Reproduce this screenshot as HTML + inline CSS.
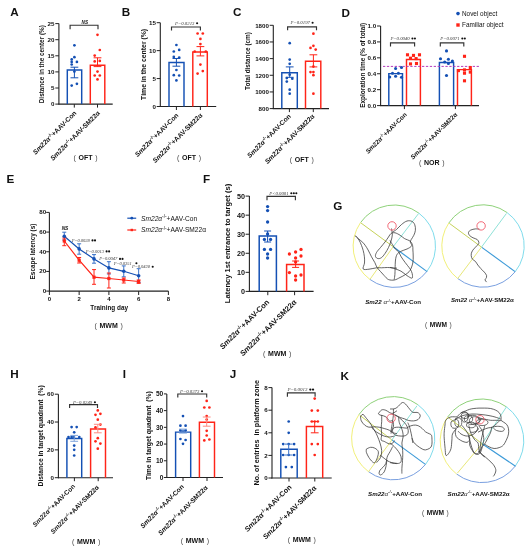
<!DOCTYPE html>
<html><head><meta charset="utf-8"><style>
html,body{margin:0;padding:0;background:#fff;}
text{white-space:pre;}
body{width:531px;height:550px;overflow:hidden;font-family:"Liberation Sans",sans-serif;}
svg{display:block;will-change:transform;}
</style></head><body>
<svg width="531" height="550" viewBox="0 0 531 550" font-family="Liberation Sans">
<rect width="531" height="550" fill="#fff"/>
<text x="10.20" y="15.50" font-size="11.7" text-anchor="start" font-weight="bold" font-style="normal" fill="#111" font-family="Liberation Sans" >A</text>
<line x1="58.90" y1="23.60" x2="58.90" y2="104.60" stroke="#222" stroke-width="1.1" />
<line x1="55.30" y1="104.10" x2="58.90" y2="104.10" stroke="#222" stroke-width="1.0" />
<text x="54.50" y="106.33" font-size="6.2" text-anchor="end" font-weight="bold" font-style="normal" fill="#111" font-family="Liberation Sans" >0</text>
<line x1="55.30" y1="88.00" x2="58.90" y2="88.00" stroke="#222" stroke-width="1.0" />
<text x="54.50" y="90.23" font-size="6.2" text-anchor="end" font-weight="bold" font-style="normal" fill="#111" font-family="Liberation Sans" >5</text>
<line x1="55.30" y1="71.90" x2="58.90" y2="71.90" stroke="#222" stroke-width="1.0" />
<text x="54.50" y="74.13" font-size="6.2" text-anchor="end" font-weight="bold" font-style="normal" fill="#111" font-family="Liberation Sans" >10</text>
<line x1="55.30" y1="55.80" x2="58.90" y2="55.80" stroke="#222" stroke-width="1.0" />
<text x="54.50" y="58.03" font-size="6.2" text-anchor="end" font-weight="bold" font-style="normal" fill="#111" font-family="Liberation Sans" >15</text>
<line x1="55.30" y1="39.70" x2="58.90" y2="39.70" stroke="#222" stroke-width="1.0" />
<text x="54.50" y="41.93" font-size="6.2" text-anchor="end" font-weight="bold" font-style="normal" fill="#111" font-family="Liberation Sans" >20</text>
<line x1="55.30" y1="23.60" x2="58.90" y2="23.60" stroke="#222" stroke-width="1.0" />
<text x="54.50" y="25.83" font-size="6.2" text-anchor="end" font-weight="bold" font-style="normal" fill="#111" font-family="Liberation Sans" >25</text>
<line x1="58.40" y1="104.10" x2="112.70" y2="104.10" stroke="#222" stroke-width="1.1" />
<line x1="74.30" y1="104.10" x2="74.30" y2="107.60" stroke="#222" stroke-width="1.0" />
<line x1="97.50" y1="104.10" x2="97.50" y2="107.60" stroke="#222" stroke-width="1.0" />
<path d="M67.30 104.10V69.90H81.70V104.10" fill="none" stroke="#1450b4" stroke-width="1.45"/>
<path d="M90.30 104.10V65.20H104.80V104.10" fill="none" stroke="#ff2418" stroke-width="1.45"/>
<circle cx="74.40" cy="45.30" r="1.35" fill="#1450b4"/>
<circle cx="74.40" cy="57.20" r="1.35" fill="#1450b4"/>
<circle cx="71.70" cy="59.40" r="1.35" fill="#1450b4"/>
<circle cx="71.70" cy="61.90" r="1.35" fill="#1450b4"/>
<circle cx="76.90" cy="61.90" r="1.35" fill="#1450b4"/>
<circle cx="71.70" cy="64.50" r="1.35" fill="#1450b4"/>
<circle cx="74.40" cy="71.60" r="1.35" fill="#1450b4"/>
<circle cx="76.90" cy="83.80" r="1.35" fill="#1450b4"/>
<circle cx="71.70" cy="85.60" r="1.35" fill="#1450b4"/>
<circle cx="97.50" cy="34.80" r="1.35" fill="#ff2418"/>
<circle cx="99.80" cy="50.00" r="1.35" fill="#ff2418"/>
<circle cx="94.70" cy="55.60" r="1.35" fill="#ff2418"/>
<circle cx="99.80" cy="60.90" r="1.35" fill="#ff2418"/>
<circle cx="94.70" cy="61.40" r="1.35" fill="#ff2418"/>
<circle cx="97.50" cy="71.60" r="1.35" fill="#ff2418"/>
<circle cx="94.70" cy="75.50" r="1.35" fill="#ff2418"/>
<circle cx="99.80" cy="75.50" r="1.35" fill="#ff2418"/>
<circle cx="97.50" cy="79.40" r="1.35" fill="#ff2418"/>
<line x1="74.40" y1="67.20" x2="74.40" y2="77.80" stroke="#1450b4" stroke-width="1.0" />
<line x1="70.50" y1="67.20" x2="78.30" y2="67.20" stroke="#1450b4" stroke-width="1.0" />
<line x1="70.50" y1="77.80" x2="78.30" y2="77.80" stroke="#1450b4" stroke-width="1.0" />
<line x1="97.50" y1="57.80" x2="97.50" y2="66.60" stroke="#ff2418" stroke-width="1.0" />
<line x1="93.60" y1="57.80" x2="101.40" y2="57.80" stroke="#ff2418" stroke-width="1.0" />
<line x1="93.60" y1="66.60" x2="101.40" y2="66.60" stroke="#ff2418" stroke-width="1.0" />
<path d="M70.10 29.20V25.20H98.00V29.20" fill="none" stroke="#333" stroke-width="1.15"/>
<text x="84.80" y="23.60" font-size="4.6" text-anchor="middle" font-weight="bold" font-style="italic" fill="#111" font-family="Liberation Sans" >NS</text>
<text x="0" y="0" font-size="6.4" text-anchor="middle" font-weight="bold" fill="#111" font-family="Liberation Sans" transform="translate(44.30,64.20) rotate(-90)">Distance in the center (%)</text>
<text x="0" y="0" font-size="6.7" text-anchor="end" font-weight="bold" fill="#111" font-family="Liberation Sans" transform="translate(77.00,113.50) rotate(-45)"><tspan font-style="italic">Sm22α</tspan><tspan font-size="4.56" dy="-2.41">-/-</tspan><tspan dy="2.41">+AAV-Con</tspan></text>
<text x="0" y="0" font-size="6.7" text-anchor="end" font-weight="bold" fill="#111" font-family="Liberation Sans" transform="translate(100.50,113.50) rotate(-45)"><tspan font-style="italic">Sm22α</tspan><tspan font-size="4.56" dy="-2.41">-/-</tspan><tspan dy="2.41">+AAV-SM22α</tspan></text>
<text x="85.50" y="160.22" font-size="7.0" text-anchor="middle" font-weight="bold" fill="#111" font-family="Liberation Sans"><tspan font-weight="normal" fill="#444">(</tspan><tspan dx="0.70"> OFT </tspan><tspan font-weight="normal" fill="#444" dx="0.70">)</tspan></text>
<text x="121.80" y="15.50" font-size="11.7" text-anchor="start" font-weight="bold" font-style="normal" fill="#111" font-family="Liberation Sans" >B</text>
<line x1="160.30" y1="22.70" x2="160.30" y2="107.00" stroke="#222" stroke-width="1.1" />
<line x1="156.70" y1="106.50" x2="160.30" y2="106.50" stroke="#222" stroke-width="1.0" />
<text x="155.90" y="108.73" font-size="6.2" text-anchor="end" font-weight="bold" font-style="normal" fill="#111" font-family="Liberation Sans" >0</text>
<line x1="156.70" y1="78.57" x2="160.30" y2="78.57" stroke="#222" stroke-width="1.0" />
<text x="155.90" y="80.80" font-size="6.2" text-anchor="end" font-weight="bold" font-style="normal" fill="#111" font-family="Liberation Sans" >5</text>
<line x1="156.70" y1="50.63" x2="160.30" y2="50.63" stroke="#222" stroke-width="1.0" />
<text x="155.90" y="52.87" font-size="6.2" text-anchor="end" font-weight="bold" font-style="normal" fill="#111" font-family="Liberation Sans" >10</text>
<line x1="156.70" y1="22.70" x2="160.30" y2="22.70" stroke="#222" stroke-width="1.0" />
<text x="155.90" y="24.93" font-size="6.2" text-anchor="end" font-weight="bold" font-style="normal" fill="#111" font-family="Liberation Sans" >15</text>
<line x1="159.80" y1="106.50" x2="216.20" y2="106.50" stroke="#222" stroke-width="1.1" />
<line x1="176.40" y1="106.50" x2="176.40" y2="110.00" stroke="#222" stroke-width="1.0" />
<line x1="200.40" y1="106.50" x2="200.40" y2="110.00" stroke="#222" stroke-width="1.0" />
<path d="M169.00 106.50V62.50H184.00V106.50" fill="none" stroke="#1450b4" stroke-width="1.45"/>
<path d="M192.80 106.50V52.00H207.30V106.50" fill="none" stroke="#ff2418" stroke-width="1.45"/>
<circle cx="176.40" cy="45.00" r="1.35" fill="#1450b4"/>
<circle cx="173.80" cy="51.50" r="1.35" fill="#1450b4"/>
<circle cx="179.20" cy="49.90" r="1.35" fill="#1450b4"/>
<circle cx="173.80" cy="56.90" r="1.35" fill="#1450b4"/>
<circle cx="179.20" cy="57.50" r="1.35" fill="#1450b4"/>
<circle cx="176.40" cy="70.00" r="1.35" fill="#1450b4"/>
<circle cx="173.80" cy="75.20" r="1.35" fill="#1450b4"/>
<circle cx="179.20" cy="75.50" r="1.35" fill="#1450b4"/>
<circle cx="176.40" cy="80.40" r="1.35" fill="#1450b4"/>
<circle cx="197.60" cy="33.50" r="1.35" fill="#ff2418"/>
<circle cx="202.80" cy="33.50" r="1.35" fill="#ff2418"/>
<circle cx="200.40" cy="38.90" r="1.35" fill="#ff2418"/>
<circle cx="200.40" cy="44.10" r="1.35" fill="#ff2418"/>
<circle cx="194.70" cy="51.50" r="1.35" fill="#ff2418"/>
<circle cx="205.80" cy="51.50" r="1.35" fill="#ff2418"/>
<circle cx="200.40" cy="64.60" r="1.35" fill="#ff2418"/>
<circle cx="202.80" cy="71.10" r="1.35" fill="#ff2418"/>
<circle cx="197.60" cy="73.60" r="1.35" fill="#ff2418"/>
<line x1="176.40" y1="58.50" x2="176.40" y2="66.20" stroke="#1450b4" stroke-width="1.0" />
<line x1="172.50" y1="58.50" x2="180.30" y2="58.50" stroke="#1450b4" stroke-width="1.0" />
<line x1="172.50" y1="66.20" x2="180.30" y2="66.20" stroke="#1450b4" stroke-width="1.0" />
<line x1="200.40" y1="46.60" x2="200.40" y2="55.90" stroke="#ff2418" stroke-width="1.0" />
<line x1="196.50" y1="46.60" x2="204.30" y2="46.60" stroke="#ff2418" stroke-width="1.0" />
<line x1="196.50" y1="55.90" x2="204.30" y2="55.90" stroke="#ff2418" stroke-width="1.0" />
<path d="M171.50 30.50V27.00H200.40V30.50" fill="none" stroke="#333" stroke-width="1.15"/>
<text x="175.10" y="24.78" font-family="Liberation Serif" font-style="italic" font-size="4.8" fill="#3c3c3c">P=0.0213</text>
<circle cx="197.12" cy="23.20" r="1.05" fill="#111"/>
<text x="0" y="0" font-size="6.85" text-anchor="middle" font-weight="bold" fill="#111" font-family="Liberation Sans" transform="translate(145.67,64.40) rotate(-90)">Time in the center (%)</text>
<text x="0" y="0" font-size="6.7" text-anchor="end" font-weight="bold" fill="#111" font-family="Liberation Sans" transform="translate(179.00,115.80) rotate(-45)"><tspan font-style="italic">Sm22α</tspan><tspan font-size="4.56" dy="-2.41">-/-</tspan><tspan dy="2.41">+AAV-Con</tspan></text>
<text x="0" y="0" font-size="6.7" text-anchor="end" font-weight="bold" fill="#111" font-family="Liberation Sans" transform="translate(202.80,115.80) rotate(-45)"><tspan font-style="italic">Sm22α</tspan><tspan font-size="4.56" dy="-2.41">-/-</tspan><tspan dy="2.41">+AAV-SM22α</tspan></text>
<text x="189.10" y="159.62" font-size="7.0" text-anchor="middle" font-weight="bold" fill="#111" font-family="Liberation Sans"><tspan font-weight="normal" fill="#444">(</tspan><tspan dx="0.70"> OFT </tspan><tspan font-weight="normal" fill="#444" dx="0.70">)</tspan></text>
<text x="233.10" y="15.50" font-size="11.7" text-anchor="start" font-weight="bold" font-style="normal" fill="#111" font-family="Liberation Sans" >C</text>
<line x1="273.30" y1="25.30" x2="273.30" y2="109.10" stroke="#222" stroke-width="1.1" />
<line x1="269.70" y1="108.60" x2="273.30" y2="108.60" stroke="#222" stroke-width="1.0" />
<text x="268.90" y="110.83" font-size="6.2" text-anchor="end" font-weight="bold" font-style="normal" fill="#111" font-family="Liberation Sans" >800</text>
<line x1="269.70" y1="91.94" x2="273.30" y2="91.94" stroke="#222" stroke-width="1.0" />
<text x="268.90" y="94.17" font-size="6.2" text-anchor="end" font-weight="bold" font-style="normal" fill="#111" font-family="Liberation Sans" >1000</text>
<line x1="269.70" y1="75.28" x2="273.30" y2="75.28" stroke="#222" stroke-width="1.0" />
<text x="268.90" y="77.51" font-size="6.2" text-anchor="end" font-weight="bold" font-style="normal" fill="#111" font-family="Liberation Sans" >1200</text>
<line x1="269.70" y1="58.62" x2="273.30" y2="58.62" stroke="#222" stroke-width="1.0" />
<text x="268.90" y="60.85" font-size="6.2" text-anchor="end" font-weight="bold" font-style="normal" fill="#111" font-family="Liberation Sans" >1400</text>
<line x1="269.70" y1="41.96" x2="273.30" y2="41.96" stroke="#222" stroke-width="1.0" />
<text x="268.90" y="44.19" font-size="6.2" text-anchor="end" font-weight="bold" font-style="normal" fill="#111" font-family="Liberation Sans" >1600</text>
<line x1="269.70" y1="25.30" x2="273.30" y2="25.30" stroke="#222" stroke-width="1.0" />
<text x="268.90" y="27.53" font-size="6.2" text-anchor="end" font-weight="bold" font-style="normal" fill="#111" font-family="Liberation Sans" >1800</text>
<line x1="272.80" y1="108.60" x2="329.00" y2="108.60" stroke="#222" stroke-width="1.1" />
<line x1="289.40" y1="108.60" x2="289.40" y2="112.10" stroke="#222" stroke-width="1.0" />
<line x1="313.30" y1="108.60" x2="313.30" y2="112.10" stroke="#222" stroke-width="1.0" />
<path d="M281.80 108.60V72.70H297.30V108.60" fill="none" stroke="#1450b4" stroke-width="1.45"/>
<path d="M305.50 108.60V61.30H320.80V108.60" fill="none" stroke="#ff2418" stroke-width="1.45"/>
<circle cx="289.70" cy="43.20" r="1.35" fill="#1450b4"/>
<circle cx="289.70" cy="59.60" r="1.35" fill="#1450b4"/>
<circle cx="289.70" cy="63.80" r="1.35" fill="#1450b4"/>
<circle cx="289.70" cy="74.70" r="1.35" fill="#1450b4"/>
<circle cx="286.80" cy="78.10" r="1.35" fill="#1450b4"/>
<circle cx="292.30" cy="78.70" r="1.35" fill="#1450b4"/>
<circle cx="286.80" cy="81.60" r="1.35" fill="#1450b4"/>
<circle cx="289.70" cy="89.70" r="1.35" fill="#1450b4"/>
<circle cx="289.70" cy="93.70" r="1.35" fill="#1450b4"/>
<circle cx="313.40" cy="33.70" r="1.35" fill="#ff2418"/>
<circle cx="310.50" cy="47.90" r="1.35" fill="#ff2418"/>
<circle cx="313.40" cy="45.80" r="1.35" fill="#ff2418"/>
<circle cx="315.70" cy="49.60" r="1.35" fill="#ff2418"/>
<circle cx="313.40" cy="66.60" r="1.35" fill="#ff2418"/>
<circle cx="313.40" cy="72.10" r="1.35" fill="#ff2418"/>
<circle cx="313.40" cy="75.20" r="1.35" fill="#ff2418"/>
<circle cx="310.50" cy="72.10" r="1.35" fill="#ff2418"/>
<circle cx="313.40" cy="93.70" r="1.35" fill="#ff2418"/>
<line x1="289.70" y1="66.90" x2="289.70" y2="77.30" stroke="#1450b4" stroke-width="1.0" />
<line x1="285.80" y1="66.90" x2="293.60" y2="66.90" stroke="#1450b4" stroke-width="1.0" />
<line x1="285.80" y1="77.30" x2="293.60" y2="77.30" stroke="#1450b4" stroke-width="1.0" />
<line x1="313.40" y1="54.80" x2="313.40" y2="66.90" stroke="#ff2418" stroke-width="1.0" />
<line x1="309.50" y1="54.80" x2="317.30" y2="54.80" stroke="#ff2418" stroke-width="1.0" />
<line x1="309.50" y1="66.90" x2="317.30" y2="66.90" stroke="#ff2418" stroke-width="1.0" />
<path d="M287.60 30.30V26.80H316.50V30.30" fill="none" stroke="#333" stroke-width="1.15"/>
<text x="290.60" y="24.38" font-family="Liberation Serif" font-style="italic" font-size="4.8" fill="#3c3c3c">P=0.0197</text>
<circle cx="312.62" cy="22.80" r="1.05" fill="#111"/>
<text x="0" y="0" font-size="6.4" text-anchor="middle" font-weight="bold" fill="#111" font-family="Liberation Sans" transform="translate(249.80,61.00) rotate(-90)">Total distance (cm)</text>
<text x="0" y="0" font-size="6.7" text-anchor="end" font-weight="bold" fill="#111" font-family="Liberation Sans" transform="translate(291.30,116.80) rotate(-45)"><tspan font-style="italic">Sm22α</tspan><tspan font-size="4.56" dy="-2.41">-/-</tspan><tspan dy="2.41">+AAV-Con</tspan></text>
<text x="0" y="0" font-size="6.7" text-anchor="end" font-weight="bold" fill="#111" font-family="Liberation Sans" transform="translate(315.00,116.80) rotate(-45)"><tspan font-style="italic">Sm22α</tspan><tspan font-size="4.56" dy="-2.41">-/-</tspan><tspan dy="2.41">+AAV-SM22α</tspan></text>
<text x="301.80" y="161.92" font-size="7.0" text-anchor="middle" font-weight="bold" fill="#111" font-family="Liberation Sans"><tspan font-weight="normal" fill="#444">(</tspan><tspan dx="0.70"> OFT </tspan><tspan font-weight="normal" fill="#444" dx="0.70">)</tspan></text>
<text x="341.40" y="16.90" font-size="11.7" text-anchor="start" font-weight="bold" font-style="normal" fill="#111" font-family="Liberation Sans" >D</text>
<line x1="380.60" y1="26.00" x2="380.60" y2="106.10" stroke="#222" stroke-width="1.1" />
<line x1="377.00" y1="105.60" x2="380.60" y2="105.60" stroke="#222" stroke-width="1.0" />
<text x="376.20" y="107.83" font-size="6.2" text-anchor="end" font-weight="bold" font-style="normal" fill="#111" font-family="Liberation Sans" >0.0</text>
<line x1="377.00" y1="89.68" x2="380.60" y2="89.68" stroke="#222" stroke-width="1.0" />
<text x="376.20" y="91.91" font-size="6.2" text-anchor="end" font-weight="bold" font-style="normal" fill="#111" font-family="Liberation Sans" >0.2</text>
<line x1="377.00" y1="73.76" x2="380.60" y2="73.76" stroke="#222" stroke-width="1.0" />
<text x="376.20" y="75.99" font-size="6.2" text-anchor="end" font-weight="bold" font-style="normal" fill="#111" font-family="Liberation Sans" >0.4</text>
<line x1="377.00" y1="57.84" x2="380.60" y2="57.84" stroke="#222" stroke-width="1.0" />
<text x="376.20" y="60.07" font-size="6.2" text-anchor="end" font-weight="bold" font-style="normal" fill="#111" font-family="Liberation Sans" >0.6</text>
<line x1="377.00" y1="41.92" x2="380.60" y2="41.92" stroke="#222" stroke-width="1.0" />
<text x="376.20" y="44.15" font-size="6.2" text-anchor="end" font-weight="bold" font-style="normal" fill="#111" font-family="Liberation Sans" >0.8</text>
<line x1="377.00" y1="26.00" x2="380.60" y2="26.00" stroke="#222" stroke-width="1.0" />
<text x="376.20" y="28.23" font-size="6.2" text-anchor="end" font-weight="bold" font-style="normal" fill="#111" font-family="Liberation Sans" >1.0</text>
<line x1="380.10" y1="105.60" x2="479.00" y2="105.60" stroke="#222" stroke-width="1.1" />
<line x1="404.40" y1="105.60" x2="404.40" y2="109.10" stroke="#222" stroke-width="1.0" />
<line x1="455.40" y1="105.60" x2="455.40" y2="109.10" stroke="#222" stroke-width="1.0" />
<path d="M388.80 105.60V73.60H402.50V105.60" fill="none" stroke="#1450b4" stroke-width="1.45"/>
<path d="M406.50 105.60V59.40H420.40V105.60" fill="none" stroke="#ff2418" stroke-width="1.45"/>
<path d="M439.40 105.60V62.50H453.60V105.60" fill="none" stroke="#1450b4" stroke-width="1.45"/>
<path d="M457.50 105.60V69.60H471.40V105.60" fill="none" stroke="#ff2418" stroke-width="1.45"/>
<line x1="383.00" y1="66.40" x2="479.00" y2="66.40" stroke="#b43cbc" stroke-width="1.0" stroke-dasharray="2.3 1.6"/>
<circle cx="395.60" cy="68.50" r="1.55" fill="#1450b4"/>
<circle cx="401.50" cy="67.50" r="1.55" fill="#1450b4"/>
<circle cx="392.50" cy="73.20" r="1.55" fill="#1450b4"/>
<circle cx="398.40" cy="73.20" r="1.55" fill="#1450b4"/>
<circle cx="395.60" cy="76.20" r="1.55" fill="#1450b4"/>
<circle cx="389.70" cy="77.00" r="1.55" fill="#1450b4"/>
<circle cx="401.50" cy="77.20" r="1.55" fill="#1450b4"/>
<rect x="405.95" y="53.25" width="3.1" height="3.1" fill="#ff2418"/>
<rect x="411.95" y="53.85" width="3.1" height="3.1" fill="#ff2418"/>
<rect x="417.95" y="53.25" width="3.1" height="3.1" fill="#ff2418"/>
<rect x="408.95" y="56.65" width="3.1" height="3.1" fill="#ff2418"/>
<rect x="414.55" y="57.05" width="3.1" height="3.1" fill="#ff2418"/>
<rect x="408.95" y="62.35" width="3.1" height="3.1" fill="#ff2418"/>
<rect x="414.95" y="61.95" width="3.1" height="3.1" fill="#ff2418"/>
<circle cx="446.50" cy="50.90" r="1.55" fill="#1450b4"/>
<circle cx="440.50" cy="58.70" r="1.55" fill="#1450b4"/>
<circle cx="448.40" cy="59.30" r="1.55" fill="#1450b4"/>
<circle cx="452.40" cy="61.00" r="1.55" fill="#1450b4"/>
<circle cx="444.70" cy="62.00" r="1.55" fill="#1450b4"/>
<circle cx="448.40" cy="63.50" r="1.55" fill="#1450b4"/>
<circle cx="446.50" cy="75.50" r="1.55" fill="#1450b4"/>
<rect x="462.95" y="54.75" width="3.1" height="3.1" fill="#ff2418"/>
<rect x="468.75" y="66.05" width="3.1" height="3.1" fill="#ff2418"/>
<rect x="456.85" y="69.05" width="3.1" height="3.1" fill="#ff2418"/>
<rect x="462.95" y="68.35" width="3.1" height="3.1" fill="#ff2418"/>
<rect x="462.95" y="71.65" width="3.1" height="3.1" fill="#ff2418"/>
<rect x="468.75" y="70.55" width="3.1" height="3.1" fill="#ff2418"/>
<rect x="462.95" y="79.25" width="3.1" height="3.1" fill="#ff2418"/>
<path d="M390.50 46.60V42.90H414.60V46.60" fill="none" stroke="#333" stroke-width="1.15"/>
<path d="M440.30 46.60V42.90H463.80V46.60" fill="none" stroke="#333" stroke-width="1.15"/>
<text x="390.40" y="40.08" font-family="Liberation Serif" font-style="italic" font-size="4.8" fill="#3c3c3c">P=0.0040</text>
<circle cx="412.42" cy="38.50" r="1.05" fill="#111"/>
<circle cx="414.92" cy="38.50" r="1.05" fill="#111"/>
<text x="440.30" y="40.08" font-family="Liberation Serif" font-style="italic" font-size="4.8" fill="#3c3c3c">P=0.0071</text>
<circle cx="462.32" cy="38.50" r="1.05" fill="#111"/>
<circle cx="464.82" cy="38.50" r="1.05" fill="#111"/>
<text x="0" y="0" font-size="6.4" text-anchor="middle" font-weight="bold" fill="#111" font-family="Liberation Sans" transform="translate(364.90,65.30) rotate(-90)">Exploration time (% of total)</text>
<text x="0" y="0" font-size="6.3" text-anchor="end" font-weight="bold" fill="#111" font-family="Liberation Sans" transform="translate(407.20,115.00) rotate(-45)"><tspan font-style="italic">Sm22α</tspan><tspan font-size="4.28" dy="-2.27">-/-</tspan><tspan dy="2.27">+AAV-Con</tspan></text>
<text x="0" y="0" font-size="6.3" text-anchor="end" font-weight="bold" fill="#111" font-family="Liberation Sans" transform="translate(457.80,115.00) rotate(-45)"><tspan font-style="italic">Sm22α</tspan><tspan font-size="4.28" dy="-2.27">-/-</tspan><tspan dy="2.27">+AAV-SM22α</tspan></text>
<text x="431.80" y="165.12" font-size="7.0" text-anchor="middle" font-weight="bold" fill="#111" font-family="Liberation Sans"><tspan font-weight="normal" fill="#444">(</tspan><tspan dx="0.70"> NOR </tspan><tspan font-weight="normal" fill="#444" dx="0.70">)</tspan></text>
<circle cx="458.00" cy="13.60" r="1.8" fill="#1450b4"/>
<rect x="456.30" y="23.30" width="3.4" height="3.4" fill="#ff2418"/>
<text x="462.00" y="15.80" font-size="6.4" text-anchor="start" font-weight="normal" font-style="normal" fill="#111" font-family="Liberation Sans" >Novel object</text>
<text x="462.00" y="27.20" font-size="6.4" text-anchor="start" font-weight="normal" font-style="normal" fill="#111" font-family="Liberation Sans" >Familiar object</text>
<text x="6.40" y="183.30" font-size="11.7" text-anchor="start" font-weight="bold" font-style="normal" fill="#111" font-family="Liberation Sans" >E</text>
<line x1="49.40" y1="212.40" x2="49.40" y2="291.60" stroke="#222" stroke-width="1.1" />
<line x1="46.20" y1="291.10" x2="49.40" y2="291.10" stroke="#222" stroke-width="1.0" />
<text x="46.20" y="293.13" font-size="6.2" text-anchor="end" font-weight="bold" font-style="normal" fill="#111" font-family="Liberation Sans" >0</text>
<line x1="46.20" y1="271.43" x2="49.40" y2="271.43" stroke="#222" stroke-width="1.0" />
<text x="46.20" y="273.46" font-size="6.2" text-anchor="end" font-weight="bold" font-style="normal" fill="#111" font-family="Liberation Sans" >20</text>
<line x1="46.20" y1="251.75" x2="49.40" y2="251.75" stroke="#222" stroke-width="1.0" />
<text x="46.20" y="253.78" font-size="6.2" text-anchor="end" font-weight="bold" font-style="normal" fill="#111" font-family="Liberation Sans" >40</text>
<line x1="46.20" y1="232.08" x2="49.40" y2="232.08" stroke="#222" stroke-width="1.0" />
<text x="46.20" y="234.11" font-size="6.2" text-anchor="end" font-weight="bold" font-style="normal" fill="#111" font-family="Liberation Sans" >60</text>
<line x1="46.20" y1="212.40" x2="49.40" y2="212.40" stroke="#222" stroke-width="1.0" />
<text x="46.20" y="214.43" font-size="6.2" text-anchor="end" font-weight="bold" font-style="normal" fill="#111" font-family="Liberation Sans" >80</text>
<line x1="49.10" y1="291.10" x2="168.40" y2="291.10" stroke="#222" stroke-width="1.1" />
<line x1="49.40" y1="291.10" x2="49.40" y2="295.00" stroke="#222" stroke-width="1.0" />
<text x="49.40" y="300.60" font-size="6.0" text-anchor="middle" font-weight="bold" font-style="normal" fill="#111" font-family="Liberation Sans" >0</text>
<line x1="79.15" y1="291.10" x2="79.15" y2="295.00" stroke="#222" stroke-width="1.0" />
<text x="79.15" y="300.60" font-size="6.0" text-anchor="middle" font-weight="bold" font-style="normal" fill="#111" font-family="Liberation Sans" >2</text>
<line x1="108.90" y1="291.10" x2="108.90" y2="295.00" stroke="#222" stroke-width="1.0" />
<text x="108.90" y="300.60" font-size="6.0" text-anchor="middle" font-weight="bold" font-style="normal" fill="#111" font-family="Liberation Sans" >4</text>
<line x1="138.65" y1="291.10" x2="138.65" y2="295.00" stroke="#222" stroke-width="1.0" />
<text x="138.65" y="300.60" font-size="6.0" text-anchor="middle" font-weight="bold" font-style="normal" fill="#111" font-family="Liberation Sans" >6</text>
<line x1="168.40" y1="291.10" x2="168.40" y2="295.00" stroke="#222" stroke-width="1.0" />
<text x="168.40" y="300.60" font-size="6.0" text-anchor="middle" font-weight="bold" font-style="normal" fill="#111" font-family="Liberation Sans" >8</text>
<line x1="64.28" y1="232.20" x2="64.28" y2="240.00" stroke="#3a72c8" stroke-width="1.0" />
<line x1="62.28" y1="232.20" x2="66.28" y2="232.20" stroke="#3a72c8" stroke-width="1.0" />
<line x1="62.28" y1="240.00" x2="66.28" y2="240.00" stroke="#3a72c8" stroke-width="1.0" />
<line x1="79.15" y1="243.80" x2="79.15" y2="254.20" stroke="#3a72c8" stroke-width="1.0" />
<line x1="77.15" y1="243.80" x2="81.15" y2="243.80" stroke="#3a72c8" stroke-width="1.0" />
<line x1="77.15" y1="254.20" x2="81.15" y2="254.20" stroke="#3a72c8" stroke-width="1.0" />
<line x1="94.03" y1="254.60" x2="94.03" y2="263.20" stroke="#3a72c8" stroke-width="1.0" />
<line x1="92.03" y1="254.60" x2="96.03" y2="254.60" stroke="#3a72c8" stroke-width="1.0" />
<line x1="92.03" y1="263.20" x2="96.03" y2="263.20" stroke="#3a72c8" stroke-width="1.0" />
<line x1="108.90" y1="261.70" x2="108.90" y2="274.00" stroke="#3a72c8" stroke-width="1.0" />
<line x1="106.90" y1="261.70" x2="110.90" y2="261.70" stroke="#3a72c8" stroke-width="1.0" />
<line x1="106.90" y1="274.00" x2="110.90" y2="274.00" stroke="#3a72c8" stroke-width="1.0" />
<line x1="123.78" y1="265.90" x2="123.78" y2="276.80" stroke="#3a72c8" stroke-width="1.0" />
<line x1="121.78" y1="265.90" x2="125.78" y2="265.90" stroke="#3a72c8" stroke-width="1.0" />
<line x1="121.78" y1="276.80" x2="125.78" y2="276.80" stroke="#3a72c8" stroke-width="1.0" />
<line x1="138.65" y1="268.70" x2="138.65" y2="282.40" stroke="#3a72c8" stroke-width="1.0" />
<line x1="136.65" y1="268.70" x2="140.65" y2="268.70" stroke="#3a72c8" stroke-width="1.0" />
<line x1="136.65" y1="282.40" x2="140.65" y2="282.40" stroke="#3a72c8" stroke-width="1.0" />
<polyline points="64.28,236.30 79.15,248.90 94.03,258.90 108.90,267.90 123.78,271.30 138.65,275.80" fill="none" stroke="#1450b4" stroke-width="1.2"/>
<line x1="64.28" y1="238.00" x2="64.28" y2="245.70" stroke="#ff2418" stroke-width="1.0" />
<line x1="62.28" y1="238.00" x2="66.28" y2="238.00" stroke="#ff2418" stroke-width="1.0" />
<line x1="62.28" y1="245.70" x2="66.28" y2="245.70" stroke="#ff2418" stroke-width="1.0" />
<line x1="79.15" y1="257.50" x2="79.15" y2="263.00" stroke="#ff2418" stroke-width="1.0" />
<line x1="77.15" y1="257.50" x2="81.15" y2="257.50" stroke="#ff2418" stroke-width="1.0" />
<line x1="77.15" y1="263.00" x2="81.15" y2="263.00" stroke="#ff2418" stroke-width="1.0" />
<line x1="94.03" y1="269.60" x2="94.03" y2="284.30" stroke="#ff2418" stroke-width="1.0" />
<line x1="92.03" y1="269.60" x2="96.03" y2="269.60" stroke="#ff2418" stroke-width="1.0" />
<line x1="92.03" y1="284.30" x2="96.03" y2="284.30" stroke="#ff2418" stroke-width="1.0" />
<line x1="108.90" y1="273.00" x2="108.90" y2="288.00" stroke="#ff2418" stroke-width="1.0" />
<line x1="106.90" y1="273.00" x2="110.90" y2="273.00" stroke="#ff2418" stroke-width="1.0" />
<line x1="106.90" y1="288.00" x2="110.90" y2="288.00" stroke="#ff2418" stroke-width="1.0" />
<line x1="123.78" y1="278.00" x2="123.78" y2="283.00" stroke="#ff2418" stroke-width="1.0" />
<line x1="121.78" y1="278.00" x2="125.78" y2="278.00" stroke="#ff2418" stroke-width="1.0" />
<line x1="121.78" y1="283.00" x2="125.78" y2="283.00" stroke="#ff2418" stroke-width="1.0" />
<line x1="138.65" y1="280.00" x2="138.65" y2="283.40" stroke="#ff2418" stroke-width="1.0" />
<line x1="136.65" y1="280.00" x2="140.65" y2="280.00" stroke="#ff2418" stroke-width="1.0" />
<line x1="136.65" y1="283.40" x2="140.65" y2="283.40" stroke="#ff2418" stroke-width="1.0" />
<polyline points="64.28,241.00 79.15,260.20 94.03,277.20 108.90,278.50 123.78,280.00 138.65,281.50" fill="none" stroke="#ff2418" stroke-width="1.2"/>
<rect x="62.68" y="239.40" width="3.2" height="3.2" fill="#ff2418"/>
<rect x="77.55" y="258.60" width="3.2" height="3.2" fill="#ff2418"/>
<rect x="92.43" y="275.60" width="3.2" height="3.2" fill="#ff2418"/>
<rect x="107.30" y="276.90" width="3.2" height="3.2" fill="#ff2418"/>
<rect x="122.18" y="278.40" width="3.2" height="3.2" fill="#ff2418"/>
<rect x="137.05" y="279.90" width="3.2" height="3.2" fill="#ff2418"/>
<circle cx="64.28" cy="236.30" r="1.8" fill="#1450b4"/>
<circle cx="79.15" cy="248.90" r="1.8" fill="#1450b4"/>
<circle cx="94.03" cy="258.90" r="1.8" fill="#1450b4"/>
<circle cx="108.90" cy="267.90" r="1.8" fill="#1450b4"/>
<circle cx="123.78" cy="271.30" r="1.8" fill="#1450b4"/>
<circle cx="138.65" cy="275.80" r="1.8" fill="#1450b4"/>
<text x="65.00" y="229.60" font-size="4.8" text-anchor="middle" font-weight="bold" font-style="italic" fill="#111" font-family="Liberation Sans" >NS</text>
<text x="71.70" y="241.89" font-family="Liberation Serif" font-style="italic" font-size="4.5" fill="#3c3c3c">P=0.0028</text>
<circle cx="92.51" cy="240.40" r="1.05" fill="#111"/>
<circle cx="95.01" cy="240.40" r="1.05" fill="#111"/>
<text x="85.80" y="252.89" font-family="Liberation Serif" font-style="italic" font-size="4.5" fill="#3c3c3c">P=0.0013</text>
<circle cx="106.61" cy="251.40" r="1.05" fill="#111"/>
<circle cx="109.11" cy="251.40" r="1.05" fill="#111"/>
<text x="99.20" y="260.38" font-family="Liberation Serif" font-style="italic" font-size="4.5" fill="#3c3c3c">P=0.0047</text>
<circle cx="120.01" cy="258.90" r="1.05" fill="#111"/>
<circle cx="122.51" cy="258.90" r="1.05" fill="#111"/>
<text x="113.70" y="264.69" font-family="Liberation Serif" font-style="italic" font-size="4.5" fill="#3c3c3c">P=0.0351</text>
<circle cx="136.41" cy="263.20" r="1.05" fill="#111"/>
<text x="131.90" y="268.29" font-family="Liberation Serif" font-style="italic" font-size="4.5" fill="#3c3c3c">P=0.0428</text>
<circle cx="152.71" cy="266.80" r="1.05" fill="#111"/>
<text x="0" y="0" font-size="6.4" text-anchor="middle" font-weight="bold" fill="#111" font-family="Liberation Sans" transform="translate(34.70,251.50) rotate(-90)">Escape latency (s)</text>
<text x="109.20" y="310.30" font-size="6.4" text-anchor="middle" font-weight="bold" font-style="normal" fill="#111" font-family="Liberation Sans" >Training day</text>
<text x="108.60" y="328.42" font-size="7.0" text-anchor="middle" font-weight="bold" fill="#111" font-family="Liberation Sans"><tspan font-weight="normal" fill="#444">(</tspan><tspan dx="0.70"> MWM </tspan><tspan font-weight="normal" fill="#444" dx="0.70">)</tspan></text>
<line x1="127.30" y1="218.20" x2="136.20" y2="218.20" stroke="#1450b4" stroke-width="1.2" />
<circle cx="131.80" cy="218.20" r="1.4" fill="#1450b4"/>
<line x1="127.30" y1="230.00" x2="136.20" y2="230.00" stroke="#ff2418" stroke-width="1.2" />
<rect x="130.60" y="228.80" width="2.4" height="2.4" fill="#ff2418"/>
<text x="141.1" y="220.60" font-size="6.6" font-family="Liberation Sans" fill="#111"><tspan font-style="italic">Sm22α</tspan><tspan font-size="4.75" dy="-2.38">-/-</tspan><tspan dy="2.38">+AAV-Con</tspan></text>
<text x="141.1" y="232.40" font-size="6.6" font-family="Liberation Sans" fill="#111"><tspan font-style="italic">Sm22α</tspan><tspan font-size="4.75" dy="-2.38">-/-</tspan><tspan dy="2.38">+AAV-SM22α</tspan></text>
<text x="203.00" y="182.90" font-size="11.7" text-anchor="start" font-weight="bold" font-style="normal" fill="#111" font-family="Liberation Sans" >F</text>
<line x1="249.40" y1="196.10" x2="249.40" y2="291.90" stroke="#222" stroke-width="1.1" />
<line x1="245.60" y1="291.40" x2="249.40" y2="291.40" stroke="#222" stroke-width="1.0" />
<text x="245.00" y="293.99" font-size="7.2" text-anchor="end" font-weight="bold" font-style="normal" fill="#111" font-family="Liberation Sans" >0</text>
<line x1="245.60" y1="272.34" x2="249.40" y2="272.34" stroke="#222" stroke-width="1.0" />
<text x="245.00" y="274.93" font-size="7.2" text-anchor="end" font-weight="bold" font-style="normal" fill="#111" font-family="Liberation Sans" >10</text>
<line x1="245.60" y1="253.28" x2="249.40" y2="253.28" stroke="#222" stroke-width="1.0" />
<text x="245.00" y="255.87" font-size="7.2" text-anchor="end" font-weight="bold" font-style="normal" fill="#111" font-family="Liberation Sans" >20</text>
<line x1="245.60" y1="234.22" x2="249.40" y2="234.22" stroke="#222" stroke-width="1.0" />
<text x="245.00" y="236.81" font-size="7.2" text-anchor="end" font-weight="bold" font-style="normal" fill="#111" font-family="Liberation Sans" >30</text>
<line x1="245.60" y1="215.16" x2="249.40" y2="215.16" stroke="#222" stroke-width="1.0" />
<text x="245.00" y="217.75" font-size="7.2" text-anchor="end" font-weight="bold" font-style="normal" fill="#111" font-family="Liberation Sans" >40</text>
<line x1="245.60" y1="196.10" x2="249.40" y2="196.10" stroke="#222" stroke-width="1.0" />
<text x="245.00" y="198.69" font-size="7.2" text-anchor="end" font-weight="bold" font-style="normal" fill="#111" font-family="Liberation Sans" >50</text>
<line x1="248.90" y1="291.40" x2="313.60" y2="291.40" stroke="#222" stroke-width="1.1" />
<line x1="267.80" y1="291.40" x2="267.80" y2="295.20" stroke="#222" stroke-width="1.0" />
<line x1="294.60" y1="291.40" x2="294.60" y2="295.20" stroke="#222" stroke-width="1.0" />
<path d="M259.20 291.40V236.10H276.40V291.40" fill="none" stroke="#1450b4" stroke-width="1.5"/>
<path d="M286.60 291.40V264.60H304.00V291.40" fill="none" stroke="#ff2418" stroke-width="1.5"/>
<circle cx="267.60" cy="206.60" r="1.65" fill="#1450b4"/>
<circle cx="267.60" cy="210.60" r="1.65" fill="#1450b4"/>
<circle cx="267.60" cy="222.00" r="1.65" fill="#1450b4"/>
<circle cx="267.60" cy="234.00" r="1.65" fill="#1450b4"/>
<circle cx="264.40" cy="239.40" r="1.65" fill="#1450b4"/>
<circle cx="270.60" cy="239.40" r="1.65" fill="#1450b4"/>
<circle cx="264.40" cy="249.40" r="1.65" fill="#1450b4"/>
<circle cx="270.60" cy="249.40" r="1.65" fill="#1450b4"/>
<circle cx="267.60" cy="254.00" r="1.65" fill="#1450b4"/>
<circle cx="267.60" cy="258.00" r="1.65" fill="#1450b4"/>
<circle cx="301.00" cy="249.40" r="1.65" fill="#ff2418"/>
<circle cx="295.60" cy="252.00" r="1.65" fill="#ff2418"/>
<circle cx="289.40" cy="254.00" r="1.65" fill="#ff2418"/>
<circle cx="301.00" cy="256.00" r="1.65" fill="#ff2418"/>
<circle cx="295.60" cy="258.00" r="1.65" fill="#ff2418"/>
<circle cx="295.60" cy="262.00" r="1.65" fill="#ff2418"/>
<circle cx="289.40" cy="272.60" r="1.65" fill="#ff2418"/>
<circle cx="301.00" cy="275.00" r="1.65" fill="#ff2418"/>
<circle cx="295.60" cy="276.00" r="1.65" fill="#ff2418"/>
<circle cx="295.60" cy="280.00" r="1.65" fill="#ff2418"/>
<line x1="267.60" y1="231.00" x2="267.60" y2="242.00" stroke="#1450b4" stroke-width="1.0" />
<line x1="264.10" y1="231.00" x2="271.10" y2="231.00" stroke="#1450b4" stroke-width="1.0" />
<line x1="264.10" y1="242.00" x2="271.10" y2="242.00" stroke="#1450b4" stroke-width="1.0" />
<line x1="295.60" y1="261.00" x2="295.60" y2="267.40" stroke="#ff2418" stroke-width="1.0" />
<line x1="292.10" y1="261.00" x2="299.10" y2="261.00" stroke="#ff2418" stroke-width="1.0" />
<line x1="292.10" y1="267.40" x2="299.10" y2="267.40" stroke="#ff2418" stroke-width="1.0" />
<path d="M267.00 200.20V196.40H295.40V200.20" fill="none" stroke="#333" stroke-width="1.15"/>
<text x="269.30" y="194.78" font-family="Liberation Serif" font-style="italic" font-size="4.8" fill="#3c3c3c">P&lt;0.0001</text>
<circle cx="291.32" cy="193.20" r="1.05" fill="#111"/>
<circle cx="293.82" cy="193.20" r="1.05" fill="#111"/>
<circle cx="296.32" cy="193.20" r="1.05" fill="#111"/>
<text x="0" y="0" font-size="7.6" text-anchor="middle" font-weight="bold" fill="#111" font-family="Liberation Sans" transform="translate(229.94,243.50) rotate(-90)">Latency 1st entrance to target (s)</text>
<text x="0" y="0" font-size="7.6" text-anchor="end" font-weight="bold" fill="#111" font-family="Liberation Sans" transform="translate(269.80,302.60) rotate(-45)"><tspan font-style="italic">Sm22α</tspan><tspan font-size="5.17" dy="-2.74">-/-</tspan><tspan dy="2.74">+AAV-Con</tspan></text>
<text x="0" y="0" font-size="7.6" text-anchor="end" font-weight="bold" fill="#111" font-family="Liberation Sans" transform="translate(297.00,302.60) rotate(-45)"><tspan font-style="italic">Sm22α</tspan><tspan font-size="5.17" dy="-2.74">-/-</tspan><tspan dy="2.74">+AAV-SM22α</tspan></text>
<text x="277.20" y="356.02" font-size="7.0" text-anchor="middle" font-weight="bold" fill="#111" font-family="Liberation Sans"><tspan font-weight="normal" fill="#444">(</tspan><tspan dx="0.70"> MWM </tspan><tspan font-weight="normal" fill="#444" dx="0.70">)</tspan></text>
<text x="333.20" y="209.60" font-size="11.7" text-anchor="start" font-weight="bold" font-style="normal" fill="#111" font-family="Liberation Sans" >G</text>
<path d="M360.50 222.65A41.2 41.2 0 0 1 418.87 213.13" fill="none" stroke="#8fd27a" stroke-width="1.0"/>
<path d="M418.87 213.13A41.2 41.2 0 0 1 426.87 271.43" fill="none" stroke="#7fdcec" stroke-width="1.0"/>
<path d="M426.87 271.43A41.2 41.2 0 0 1 369.92 279.41" fill="none" stroke="#7aa0e0" stroke-width="1.0"/>
<path d="M369.92 279.41A41.2 41.2 0 0 1 360.50 222.65" fill="none" stroke="#f2f07a" stroke-width="1.0"/>
<line x1="361.00" y1="223.00" x2="393.20" y2="246.70" stroke="#c6d25a" stroke-width="1.0" />
<line x1="418.60" y1="213.50" x2="393.20" y2="246.70" stroke="#8fe2d8" stroke-width="1.0" />
<line x1="427.10" y1="271.60" x2="393.20" y2="246.70" stroke="#3c9ad8" stroke-width="1.15" />
<line x1="370.00" y1="279.30" x2="393.20" y2="246.70" stroke="#e8e87a" stroke-width="1.0" />
<path d="M355.40 235.80C355.92 236.30 357.28 237.72 358.50 238.80C359.72 239.88 361.53 241.13 362.70 242.30C363.87 243.47 364.60 244.52 365.50 245.80C366.40 247.08 367.10 248.17 368.10 250.00C369.10 251.83 370.37 254.68 371.50 256.80C372.63 258.92 373.98 260.93 374.90 262.70C375.82 264.47 376.07 265.93 377.00 267.40C377.93 268.87 379.30 270.13 380.50 271.50C381.70 272.87 382.88 274.27 384.20 275.60C385.52 276.93 386.70 278.77 388.40 279.50C390.10 280.23 392.47 280.33 394.40 280.00C396.33 279.67 398.15 278.42 400.00 277.50C401.85 276.58 403.83 275.67 405.50 274.50C407.17 273.33 408.78 272.42 410.00 270.50C411.22 268.58 412.27 265.42 412.80 263.00C413.33 260.58 413.18 258.17 413.20 256.00C413.22 253.83 413.00 251.75 412.90 250.00C412.80 248.25 413.03 246.95 412.60 245.50C412.17 244.05 411.67 242.47 410.30 241.30C408.93 240.13 406.08 239.50 404.40 238.50C402.72 237.50 401.77 236.25 400.20 235.30C398.63 234.35 396.53 233.10 395.00 232.80C393.47 232.50 392.08 232.80 391.00 233.50C389.92 234.20 389.50 235.58 388.50 237.00C387.50 238.42 386.33 240.25 385.00 242.00C383.67 243.75 381.92 245.75 380.50 247.50C379.08 249.25 377.33 251.00 376.50 252.50C375.67 254.00 375.25 255.48 375.50 256.50C375.75 257.52 377.00 258.42 378.00 258.60C379.00 258.78 380.33 258.45 381.50 257.60C382.67 256.75 383.83 255.18 385.00 253.50C386.17 251.82 387.50 249.58 388.50 247.50C389.50 245.42 390.37 243.08 391.00 241.00C391.63 238.92 392.22 237.08 392.30 235.00C392.38 232.92 391.63 229.58 391.50 228.50 M392.50 232.00C393.17 231.58 395.00 230.75 396.50 229.50C398.00 228.25 399.75 225.92 401.50 224.50C403.25 223.08 405.25 221.52 407.00 221.00C408.75 220.48 410.70 220.77 412.00 221.40C413.30 222.03 414.23 223.32 414.80 224.80C415.37 226.28 415.57 228.55 415.40 230.30C415.23 232.05 414.50 233.75 413.80 235.30C413.10 236.85 411.78 238.45 411.20 239.60C410.62 240.75 410.23 241.38 410.30 242.20C410.37 243.02 411.48 243.77 411.60 244.50C411.72 245.23 411.77 245.85 411.00 246.60C410.23 247.35 408.75 248.18 407.00 249.00C405.25 249.82 402.17 250.58 400.50 251.50C398.83 252.42 397.83 253.08 397.00 254.50C396.17 255.92 395.82 257.65 395.50 260.00C395.18 262.35 395.20 266.18 395.10 268.60C395.00 271.02 395.05 272.65 394.90 274.50C394.75 276.35 394.32 278.83 394.20 279.70 M397.00 268.20C396.17 268.13 393.57 267.92 392.00 267.80C390.43 267.68 389.35 267.50 387.60 267.50C385.85 267.50 383.33 267.75 381.50 267.80C379.67 267.85 378.68 267.57 376.60 267.80C374.52 268.03 371.23 269.00 369.00 269.20C366.77 269.40 363.95 270.03 363.20 269.00C362.45 267.97 364.30 265.03 364.50 263.00C364.70 260.97 364.62 258.88 364.40 256.80C364.18 254.72 363.68 252.38 363.20 250.50C362.72 248.62 362.20 247.25 361.50 245.50C360.80 243.75 360.02 241.62 359.00 240.00C357.98 238.38 356.00 236.50 355.40 235.80 M390.00 240.40C390.42 241.12 391.58 243.23 392.50 244.70C393.42 246.17 394.50 248.03 395.50 249.20C396.50 250.37 397.55 250.43 398.50 251.70C399.45 252.97 400.07 254.97 401.20 256.80C402.33 258.63 403.95 260.87 405.30 262.70C406.65 264.53 408.27 266.33 409.30 267.80C410.33 269.27 410.97 270.22 411.50 271.50C412.03 272.78 412.45 274.38 412.50 275.50C412.55 276.62 412.72 278.18 411.80 278.20C410.88 278.22 408.80 276.77 407.00 275.60C405.20 274.43 403.00 272.33 401.00 271.20C399.00 270.07 396.83 269.43 395.00 268.80C393.17 268.17 390.83 267.63 390.00 267.40" fill="none" stroke="#333" stroke-width="0.75" stroke-linejoin="round"/>
<circle cx="392.0" cy="225.9" r="4.2" fill="none" stroke="#f05a6a" stroke-width="0.9"/>
<path d="M448.83 222.98A41.2 41.2 0 0 1 507.07 212.56" fill="none" stroke="#8fd27a" stroke-width="1.0"/>
<path d="M507.07 212.56A41.2 41.2 0 0 1 515.21 271.69" fill="none" stroke="#7fdcec" stroke-width="1.0"/>
<path d="M515.21 271.69A41.2 41.2 0 0 1 457.71 278.52" fill="none" stroke="#7aa0e0" stroke-width="1.0"/>
<path d="M457.71 278.52A41.2 41.2 0 0 1 448.83 222.98" fill="none" stroke="#f2f07a" stroke-width="1.0"/>
<line x1="449.30" y1="223.30" x2="481.50" y2="247.10" stroke="#c6d25a" stroke-width="1.0" />
<line x1="506.40" y1="213.50" x2="481.50" y2="247.10" stroke="#8fe2d8" stroke-width="1.0" />
<line x1="515.10" y1="271.60" x2="481.50" y2="247.10" stroke="#3c9ad8" stroke-width="1.15" />
<line x1="457.80" y1="278.40" x2="481.50" y2="247.10" stroke="#e8e87a" stroke-width="1.0" />
<path d="M479.50 229.20C478.82 229.15 476.87 228.75 475.40 228.90C473.93 229.05 471.85 229.52 470.70 230.10C469.55 230.68 468.70 231.52 468.50 232.40C468.30 233.28 468.75 234.50 469.50 235.40C470.25 236.30 471.72 237.12 473.00 237.80C474.28 238.48 476.22 238.72 477.20 239.50C478.18 240.28 478.80 241.60 478.90 242.50C479.00 243.40 478.58 243.92 477.80 244.90C477.02 245.88 475.20 247.22 474.20 248.40C473.20 249.58 472.30 250.82 471.80 252.00C471.30 253.18 471.10 254.32 471.20 255.50C471.30 256.68 471.70 258.12 472.40 259.10C473.10 260.08 474.50 260.42 475.40 261.40C476.30 262.38 476.92 263.82 477.80 265.00C478.68 266.18 479.62 267.32 480.70 268.50C481.78 269.68 483.32 270.92 484.30 272.10C485.28 273.28 486.32 274.52 486.60 275.60C486.88 276.68 486.28 277.90 486.00 278.60C485.72 279.30 484.80 279.22 484.90 279.80C485.00 280.38 486.32 281.72 486.60 282.10" fill="none" stroke="#333" stroke-width="0.75" stroke-linejoin="round"/>
<circle cx="481.1" cy="225.9" r="4.2" fill="none" stroke="#f05a6a" stroke-width="0.9"/>
<text x="365.20" y="304.00" font-size="6.2" font-weight="bold" font-family="Liberation Sans" fill="#111"><tspan font-style="italic">Sm22 </tspan><tspan font-style="italic" font-weight="normal">α</tspan><tspan font-size="4.34" dy="-2.36" font-weight="normal">-/-</tspan><tspan dy="2.36">+AAV-Con</tspan></text>
<text x="451.00" y="302.30" font-size="6.1" font-weight="bold" font-family="Liberation Sans" fill="#111"><tspan font-style="italic">Sm22 </tspan><tspan font-style="italic" font-weight="normal">α</tspan><tspan font-size="4.27" dy="-2.32" font-weight="normal">-/-</tspan><tspan dy="2.32">+AAV-SM22α</tspan></text>
<text x="438.40" y="327.18" font-size="6.6" text-anchor="middle" font-weight="bold" fill="#111" font-family="Liberation Sans"><tspan font-weight="normal" fill="#444">(</tspan><tspan dx="0.66"> MWM </tspan><tspan font-weight="normal" fill="#444" dx="0.66">)</tspan></text>
<text x="10.20" y="377.60" font-size="11.7" text-anchor="start" font-weight="bold" font-style="normal" fill="#111" font-family="Liberation Sans" >H</text>
<line x1="58.40" y1="394.20" x2="58.40" y2="478.20" stroke="#222" stroke-width="1.1" />
<line x1="54.80" y1="477.70" x2="58.40" y2="477.70" stroke="#222" stroke-width="1.0" />
<text x="54.00" y="479.93" font-size="6.2" text-anchor="end" font-weight="bold" font-style="normal" fill="#111" font-family="Liberation Sans" >0</text>
<line x1="54.80" y1="449.87" x2="58.40" y2="449.87" stroke="#222" stroke-width="1.0" />
<text x="54.00" y="452.10" font-size="6.2" text-anchor="end" font-weight="bold" font-style="normal" fill="#111" font-family="Liberation Sans" >20</text>
<line x1="54.80" y1="422.03" x2="58.40" y2="422.03" stroke="#222" stroke-width="1.0" />
<text x="54.00" y="424.27" font-size="6.2" text-anchor="end" font-weight="bold" font-style="normal" fill="#111" font-family="Liberation Sans" >40</text>
<line x1="54.80" y1="394.20" x2="58.40" y2="394.20" stroke="#222" stroke-width="1.0" />
<text x="54.00" y="396.43" font-size="6.2" text-anchor="end" font-weight="bold" font-style="normal" fill="#111" font-family="Liberation Sans" >60</text>
<line x1="57.90" y1="477.70" x2="113.00" y2="477.70" stroke="#222" stroke-width="1.1" />
<line x1="74.40" y1="477.70" x2="74.40" y2="481.20" stroke="#222" stroke-width="1.0" />
<line x1="98.20" y1="477.70" x2="98.20" y2="481.20" stroke="#222" stroke-width="1.0" />
<path d="M66.90 477.70V438.50H81.70V477.70" fill="none" stroke="#1450b4" stroke-width="1.45"/>
<path d="M90.60 477.70V429.00H105.50V477.70" fill="none" stroke="#ff2418" stroke-width="1.45"/>
<circle cx="71.60" cy="427.10" r="1.35" fill="#1450b4"/>
<circle cx="76.70" cy="427.10" r="1.35" fill="#1450b4"/>
<circle cx="74.20" cy="432.30" r="1.35" fill="#1450b4"/>
<circle cx="71.60" cy="437.00" r="1.35" fill="#1450b4"/>
<circle cx="68.50" cy="437.00" r="1.35" fill="#1450b4"/>
<circle cx="79.30" cy="437.00" r="1.35" fill="#1450b4"/>
<circle cx="73.90" cy="437.00" r="1.35" fill="#1450b4"/>
<circle cx="74.20" cy="445.60" r="1.35" fill="#1450b4"/>
<circle cx="74.20" cy="449.80" r="1.35" fill="#1450b4"/>
<circle cx="74.20" cy="455.50" r="1.35" fill="#1450b4"/>
<circle cx="97.80" cy="410.40" r="1.35" fill="#ff2418"/>
<circle cx="95.50" cy="414.80" r="1.35" fill="#ff2418"/>
<circle cx="100.40" cy="413.80" r="1.35" fill="#ff2418"/>
<circle cx="97.80" cy="419.70" r="1.35" fill="#ff2418"/>
<circle cx="100.40" cy="424.60" r="1.35" fill="#ff2418"/>
<circle cx="95.50" cy="427.40" r="1.35" fill="#ff2418"/>
<circle cx="97.80" cy="438.20" r="1.35" fill="#ff2418"/>
<circle cx="95.50" cy="441.30" r="1.35" fill="#ff2418"/>
<circle cx="100.40" cy="443.60" r="1.35" fill="#ff2418"/>
<circle cx="97.80" cy="448.70" r="1.35" fill="#ff2418"/>
<line x1="74.20" y1="435.40" x2="74.20" y2="441.30" stroke="#7fa4dc" stroke-width="1.0" />
<line x1="70.30" y1="435.40" x2="78.10" y2="435.40" stroke="#7fa4dc" stroke-width="1.0" />
<line x1="70.30" y1="441.30" x2="78.10" y2="441.30" stroke="#7fa4dc" stroke-width="1.0" />
<line x1="97.80" y1="424.30" x2="97.80" y2="432.80" stroke="#ff8a80" stroke-width="1.0" />
<line x1="93.90" y1="424.30" x2="101.70" y2="424.30" stroke="#ff8a80" stroke-width="1.0" />
<line x1="93.90" y1="432.80" x2="101.70" y2="432.80" stroke="#ff8a80" stroke-width="1.0" />
<path d="M69.60 408.10V404.60H97.50V408.10" fill="none" stroke="#333" stroke-width="1.15"/>
<text x="72.90" y="403.78" font-family="Liberation Serif" font-style="italic" font-size="4.8" fill="#3c3c3c">P=0.0249</text>
<circle cx="94.92" cy="402.20" r="1.05" fill="#111"/>
<text x="0" y="0" font-size="6.72" text-anchor="middle" font-weight="bold" fill="#111" font-family="Liberation Sans" transform="translate(43.12,435.80) rotate(-90)">Distance in target quadrant  (%)</text>
<text x="0" y="0" font-size="6.5" text-anchor="end" font-weight="bold" fill="#111" font-family="Liberation Sans" transform="translate(75.50,486.80) rotate(-45)"><tspan font-style="italic">Sm22α</tspan><tspan font-size="4.42" dy="-2.34">-/-</tspan><tspan dy="2.34">+AAV-Con</tspan></text>
<text x="0" y="0" font-size="6.5" text-anchor="end" font-weight="bold" fill="#111" font-family="Liberation Sans" transform="translate(99.40,487.90) rotate(-45)"><tspan font-style="italic">Sm22α</tspan><tspan font-size="4.42" dy="-2.34">-/-</tspan><tspan dy="2.34">+AAV-SM22α</tspan></text>
<text x="86.10" y="544.22" font-size="7.0" text-anchor="middle" font-weight="bold" fill="#111" font-family="Liberation Sans"><tspan font-weight="normal" fill="#444">(</tspan><tspan dx="0.70"> MWM </tspan><tspan font-weight="normal" fill="#444" dx="0.70">)</tspan></text>
<text x="122.70" y="377.80" font-size="11.7" text-anchor="start" font-weight="bold" font-style="normal" fill="#111" font-family="Liberation Sans" >I</text>
<line x1="166.80" y1="393.90" x2="166.80" y2="478.00" stroke="#222" stroke-width="1.1" />
<line x1="163.90" y1="477.50" x2="166.80" y2="477.50" stroke="#222" stroke-width="1.0" />
<text x="163.30" y="479.88" font-size="6.6" text-anchor="end" font-weight="bold" font-style="normal" fill="#111" font-family="Liberation Sans" >0</text>
<line x1="163.90" y1="460.78" x2="166.80" y2="460.78" stroke="#222" stroke-width="1.0" />
<text x="163.30" y="463.16" font-size="6.6" text-anchor="end" font-weight="bold" font-style="normal" fill="#111" font-family="Liberation Sans" >10</text>
<line x1="163.90" y1="444.06" x2="166.80" y2="444.06" stroke="#222" stroke-width="1.0" />
<text x="163.30" y="446.44" font-size="6.6" text-anchor="end" font-weight="bold" font-style="normal" fill="#111" font-family="Liberation Sans" >20</text>
<line x1="163.90" y1="427.34" x2="166.80" y2="427.34" stroke="#222" stroke-width="1.0" />
<text x="163.30" y="429.72" font-size="6.6" text-anchor="end" font-weight="bold" font-style="normal" fill="#111" font-family="Liberation Sans" >30</text>
<line x1="163.90" y1="410.62" x2="166.80" y2="410.62" stroke="#222" stroke-width="1.0" />
<text x="163.30" y="413.00" font-size="6.6" text-anchor="end" font-weight="bold" font-style="normal" fill="#111" font-family="Liberation Sans" >40</text>
<line x1="163.90" y1="393.90" x2="166.80" y2="393.90" stroke="#222" stroke-width="1.0" />
<text x="163.30" y="396.28" font-size="6.6" text-anchor="end" font-weight="bold" font-style="normal" fill="#111" font-family="Liberation Sans" >50</text>
<line x1="166.30" y1="477.50" x2="223.00" y2="477.50" stroke="#222" stroke-width="1.1" />
<line x1="183.00" y1="477.50" x2="183.00" y2="481.00" stroke="#222" stroke-width="1.0" />
<line x1="207.00" y1="477.50" x2="207.00" y2="481.00" stroke="#222" stroke-width="1.0" />
<path d="M175.60 477.50V432.10H190.70V477.50" fill="none" stroke="#1450b4" stroke-width="1.45"/>
<path d="M199.40 477.50V422.20H214.50V477.50" fill="none" stroke="#ff2418" stroke-width="1.45"/>
<circle cx="183.00" cy="416.10" r="1.35" fill="#1450b4"/>
<circle cx="180.40" cy="425.70" r="1.35" fill="#1450b4"/>
<circle cx="185.60" cy="425.70" r="1.35" fill="#1450b4"/>
<circle cx="180.40" cy="430.30" r="1.35" fill="#1450b4"/>
<circle cx="185.60" cy="430.30" r="1.35" fill="#1450b4"/>
<circle cx="183.00" cy="431.40" r="1.35" fill="#1450b4"/>
<circle cx="180.40" cy="439.00" r="1.35" fill="#1450b4"/>
<circle cx="185.60" cy="440.00" r="1.35" fill="#1450b4"/>
<circle cx="183.00" cy="443.80" r="1.35" fill="#1450b4"/>
<circle cx="206.70" cy="400.90" r="1.35" fill="#ff2418"/>
<circle cx="204.30" cy="407.50" r="1.35" fill="#ff2418"/>
<circle cx="209.40" cy="407.50" r="1.35" fill="#ff2418"/>
<circle cx="206.70" cy="416.10" r="1.35" fill="#ff2418"/>
<circle cx="206.70" cy="419.60" r="1.35" fill="#ff2418"/>
<circle cx="206.70" cy="430.80" r="1.35" fill="#ff2418"/>
<circle cx="206.70" cy="435.50" r="1.35" fill="#ff2418"/>
<circle cx="204.30" cy="440.40" r="1.35" fill="#ff2418"/>
<circle cx="209.40" cy="439.50" r="1.35" fill="#ff2418"/>
<line x1="183.00" y1="429.10" x2="183.00" y2="433.10" stroke="#7fa4dc" stroke-width="1.0" />
<line x1="179.10" y1="429.10" x2="186.90" y2="429.10" stroke="#7fa4dc" stroke-width="1.0" />
<line x1="179.10" y1="433.10" x2="186.90" y2="433.10" stroke="#7fa4dc" stroke-width="1.0" />
<line x1="206.70" y1="417.00" x2="206.70" y2="426.20" stroke="#ff8a80" stroke-width="1.0" />
<line x1="202.80" y1="417.00" x2="210.60" y2="417.00" stroke="#ff8a80" stroke-width="1.0" />
<line x1="202.80" y1="426.20" x2="210.60" y2="426.20" stroke="#ff8a80" stroke-width="1.0" />
<path d="M177.80 397.50V394.00H206.70V397.50" fill="none" stroke="#333" stroke-width="1.15"/>
<text x="180.00" y="392.78" font-family="Liberation Serif" font-style="italic" font-size="4.8" fill="#3c3c3c">P=0.0373</text>
<circle cx="202.02" cy="391.20" r="1.05" fill="#111"/>
<text x="0" y="0" font-size="6.72" text-anchor="middle" font-weight="bold" fill="#111" font-family="Liberation Sans" transform="translate(150.82,435.70) rotate(-90)">Time in target quadrant  (%)</text>
<text x="0" y="0" font-size="6.7" text-anchor="end" font-weight="bold" fill="#111" font-family="Liberation Sans" transform="translate(184.40,487.20) rotate(-45)"><tspan font-style="italic">Sm22α</tspan><tspan font-size="4.56" dy="-2.41">-/-</tspan><tspan dy="2.41">+AAV-Con</tspan></text>
<text x="0" y="0" font-size="6.7" text-anchor="end" font-weight="bold" fill="#111" font-family="Liberation Sans" transform="translate(208.20,488.20) rotate(-45)"><tspan font-style="italic">Sm22α</tspan><tspan font-size="4.56" dy="-2.41">-/-</tspan><tspan dy="2.41">+AAV-SM22α</tspan></text>
<text x="194.90" y="542.72" font-size="7.0" text-anchor="middle" font-weight="bold" fill="#111" font-family="Liberation Sans"><tspan font-weight="normal" fill="#444">(</tspan><tspan dx="0.70"> MWM </tspan><tspan font-weight="normal" fill="#444" dx="0.70">)</tspan></text>
<text x="229.80" y="378.20" font-size="11.7" text-anchor="start" font-weight="bold" font-style="normal" fill="#111" font-family="Liberation Sans" >J</text>
<line x1="272.00" y1="387.60" x2="272.00" y2="478.50" stroke="#222" stroke-width="1.1" />
<line x1="268.40" y1="478.00" x2="272.00" y2="478.00" stroke="#222" stroke-width="1.0" />
<text x="267.60" y="480.23" font-size="6.2" text-anchor="end" font-weight="bold" font-style="normal" fill="#111" font-family="Liberation Sans" >0</text>
<line x1="268.40" y1="455.40" x2="272.00" y2="455.40" stroke="#222" stroke-width="1.0" />
<text x="267.60" y="457.63" font-size="6.2" text-anchor="end" font-weight="bold" font-style="normal" fill="#111" font-family="Liberation Sans" >2</text>
<line x1="268.40" y1="432.80" x2="272.00" y2="432.80" stroke="#222" stroke-width="1.0" />
<text x="267.60" y="435.03" font-size="6.2" text-anchor="end" font-weight="bold" font-style="normal" fill="#111" font-family="Liberation Sans" >4</text>
<line x1="268.40" y1="410.20" x2="272.00" y2="410.20" stroke="#222" stroke-width="1.0" />
<text x="267.60" y="412.43" font-size="6.2" text-anchor="end" font-weight="bold" font-style="normal" fill="#111" font-family="Liberation Sans" >6</text>
<line x1="268.40" y1="387.60" x2="272.00" y2="387.60" stroke="#222" stroke-width="1.0" />
<text x="267.60" y="389.83" font-size="6.2" text-anchor="end" font-weight="bold" font-style="normal" fill="#111" font-family="Liberation Sans" >8</text>
<line x1="271.50" y1="478.00" x2="331.70" y2="478.00" stroke="#222" stroke-width="1.1" />
<line x1="289.00" y1="478.00" x2="289.00" y2="481.50" stroke="#222" stroke-width="1.0" />
<line x1="314.80" y1="478.00" x2="314.80" y2="481.50" stroke="#222" stroke-width="1.0" />
<path d="M280.80 478.00V449.20H297.20V478.00" fill="none" stroke="#1450b4" stroke-width="1.45"/>
<path d="M306.40 478.00V426.40H322.70V478.00" fill="none" stroke="#ff2418" stroke-width="1.45"/>
<circle cx="288.70" cy="421.50" r="1.35" fill="#1450b4"/>
<circle cx="288.70" cy="432.80" r="1.35" fill="#1450b4"/>
<circle cx="283.20" cy="444.10" r="1.35" fill="#1450b4"/>
<circle cx="288.70" cy="444.10" r="1.35" fill="#1450b4"/>
<circle cx="294.10" cy="444.10" r="1.35" fill="#1450b4"/>
<circle cx="283.20" cy="455.00" r="1.35" fill="#1450b4"/>
<circle cx="288.70" cy="455.00" r="1.35" fill="#1450b4"/>
<circle cx="294.10" cy="455.00" r="1.35" fill="#1450b4"/>
<circle cx="285.90" cy="467.10" r="1.35" fill="#1450b4"/>
<circle cx="291.80" cy="467.10" r="1.35" fill="#1450b4"/>
<circle cx="314.70" cy="398.60" r="1.35" fill="#ff2418"/>
<circle cx="311.80" cy="410.60" r="1.35" fill="#ff2418"/>
<circle cx="317.80" cy="410.60" r="1.35" fill="#ff2418"/>
<circle cx="311.80" cy="421.50" r="1.35" fill="#ff2418"/>
<circle cx="317.80" cy="421.50" r="1.35" fill="#ff2418"/>
<circle cx="314.70" cy="421.50" r="1.35" fill="#ff2418"/>
<circle cx="311.80" cy="444.10" r="1.35" fill="#ff2418"/>
<circle cx="317.80" cy="444.10" r="1.35" fill="#ff2418"/>
<circle cx="314.70" cy="455.00" r="1.35" fill="#ff2418"/>
<line x1="288.70" y1="444.10" x2="288.70" y2="455.00" stroke="#3a72c8" stroke-width="1.0" />
<line x1="284.80" y1="444.10" x2="292.60" y2="444.10" stroke="#3a72c8" stroke-width="1.0" />
<line x1="284.80" y1="455.00" x2="292.60" y2="455.00" stroke="#3a72c8" stroke-width="1.0" />
<line x1="314.70" y1="421.50" x2="314.70" y2="432.80" stroke="#ff2418" stroke-width="1.0" />
<line x1="310.80" y1="421.50" x2="318.60" y2="421.50" stroke="#ff2418" stroke-width="1.0" />
<line x1="310.80" y1="432.80" x2="318.60" y2="432.80" stroke="#ff2418" stroke-width="1.0" />
<path d="M287.40 396.80V392.80H315.10V396.80" fill="none" stroke="#333" stroke-width="1.15"/>
<text x="287.40" y="391.25" font-family="Liberation Serif" font-style="italic" font-size="5.0" fill="#3c3c3c">P=0.0013</text>
<circle cx="310.33" cy="389.60" r="1.15" fill="#111"/>
<circle cx="313.03" cy="389.60" r="1.15" fill="#111"/>
<text x="0" y="0" font-size="7.2" text-anchor="middle" font-weight="bold" fill="#111" font-family="Liberation Sans" transform="translate(259.39,432.80) rotate(-90)">No. of entries  in platform zone</text>
<text x="0" y="0" font-size="7.2" text-anchor="end" font-weight="bold" fill="#111" font-family="Liberation Sans" transform="translate(292.00,487.60) rotate(-45)"><tspan font-style="italic">Sm22α</tspan><tspan font-size="4.90" dy="-2.59">-/-</tspan><tspan dy="2.59">+AAV-Con</tspan></text>
<text x="0" y="0" font-size="7.2" text-anchor="end" font-weight="bold" fill="#111" font-family="Liberation Sans" transform="translate(316.80,488.70) rotate(-45)"><tspan font-style="italic">Sm22α</tspan><tspan font-size="4.90" dy="-2.59">-/-</tspan><tspan dy="2.59">+AAV-SM22α</tspan></text>
<text x="301.80" y="541.62" font-size="7.0" text-anchor="middle" font-weight="bold" fill="#111" font-family="Liberation Sans"><tspan font-weight="normal" fill="#444">(</tspan><tspan dx="0.70"> MWM </tspan><tspan font-weight="normal" fill="#444" dx="0.70">)</tspan></text>
<text x="340.40" y="379.80" font-size="11.7" text-anchor="start" font-weight="bold" font-style="normal" fill="#111" font-family="Liberation Sans" >K</text>
<path d="M358.90 414.65A41.6 41.6 0 0 1 417.83 404.67" fill="none" stroke="#8fd27a" stroke-width="1.0"/>
<path d="M417.83 404.67A41.6 41.6 0 0 1 425.47 464.46" fill="none" stroke="#7fdcec" stroke-width="1.0"/>
<path d="M425.47 464.46A41.6 41.6 0 0 1 368.51 471.68" fill="none" stroke="#7aa0e0" stroke-width="1.0"/>
<path d="M368.51 471.68A41.6 41.6 0 0 1 358.90 414.65" fill="none" stroke="#f2f07a" stroke-width="1.0"/>
<line x1="359.70" y1="415.20" x2="391.90" y2="439.90" stroke="#c6d25a" stroke-width="1.0" />
<line x1="417.00" y1="405.80" x2="391.90" y2="439.90" stroke="#8fe2d8" stroke-width="1.0" />
<line x1="425.40" y1="464.40" x2="391.90" y2="439.90" stroke="#3c9ad8" stroke-width="1.15" />
<line x1="368.50" y1="471.70" x2="391.90" y2="439.90" stroke="#e8e87a" stroke-width="1.0" />
<path d="M363.00 414.10C363.57 414.80 365.27 416.88 366.40 418.30C367.53 419.72 368.82 421.18 369.80 422.60C370.78 424.02 371.45 425.40 372.30 426.80C373.15 428.20 374.05 429.45 374.90 431.00C375.75 432.55 376.55 434.10 377.40 436.10C378.25 438.10 379.28 440.57 380.00 443.00C380.72 445.43 381.62 448.28 381.70 450.70C381.78 453.12 381.35 455.52 380.50 457.50C379.65 459.48 377.25 461.75 376.60 462.60 M360.50 416.20C360.63 416.98 360.60 419.42 361.30 420.90C362.00 422.38 363.43 424.05 364.70 425.10C365.97 426.15 367.35 426.92 368.90 427.20C370.45 427.48 372.30 426.80 374.00 426.80C375.70 426.80 377.40 426.92 379.10 427.20C380.80 427.48 382.50 428.00 384.20 428.50C385.90 429.00 387.88 429.50 389.30 430.20C390.72 430.90 391.42 432.13 392.70 432.70C393.98 433.27 396.28 433.45 397.00 433.60 M371.50 426.80C371.92 427.37 372.73 429.07 374.00 430.20C375.27 431.33 377.40 432.62 379.10 433.60C380.80 434.58 382.50 435.53 384.20 436.10C385.90 436.67 387.60 437.00 389.30 437.00C391.00 437.00 393.55 436.25 394.40 436.10 M381.70 415.00C381.70 416.12 381.78 419.58 381.70 421.70C381.62 423.82 381.20 425.58 381.20 427.70C381.20 429.82 381.70 432.35 381.70 434.40C381.70 436.45 380.78 438.83 381.20 440.00C381.62 441.17 382.85 440.75 384.20 441.40C385.55 442.05 387.88 443.62 389.30 443.90C390.72 444.18 391.85 443.67 392.70 443.10C393.55 442.53 394.12 440.93 394.40 440.50 M363.00 414.10C362.58 414.45 360.92 415.85 360.50 416.20 M378.30 413.70C378.87 413.07 380.43 410.47 381.70 409.90C382.97 409.33 384.63 409.88 385.90 410.30C387.17 410.72 388.17 411.90 389.30 412.40C390.43 412.90 391.42 413.58 392.70 413.30C393.98 413.02 396.28 411.13 397.00 410.70 M378.30 413.70C378.58 413.92 379.15 414.65 380.00 415.00C380.85 415.35 382.28 415.38 383.40 415.80C384.52 416.22 385.68 416.63 386.70 417.50C387.72 418.37 388.50 420.43 389.50 421.00C390.50 421.57 392.03 420.07 392.70 420.90C393.37 421.73 393.65 424.45 393.50 426.00C393.35 427.55 392.22 428.93 391.80 430.20C391.38 431.47 391.13 433.03 391.00 433.60 M390.00 409.00C390.85 408.93 393.68 409.08 395.10 408.60C396.52 408.12 397.37 407.08 398.50 406.10C399.63 405.12 400.92 403.20 401.90 402.70C402.88 402.20 403.57 402.62 404.40 403.10C405.23 403.58 405.92 404.47 406.90 405.60C407.88 406.73 409.30 408.77 410.30 409.90C411.30 411.03 411.77 411.98 412.90 412.40C414.03 412.82 415.97 412.12 417.10 412.40C418.23 412.68 419.20 413.40 419.70 414.10C420.20 414.80 420.38 415.68 420.10 416.60C419.82 417.52 419.07 418.88 418.00 419.60C416.93 420.32 415.27 420.75 413.70 420.90C412.13 421.05 410.15 420.85 408.60 420.50C407.05 420.15 405.80 419.30 404.40 418.80C403.00 418.30 401.75 418.13 400.20 417.50C398.65 416.87 396.52 415.57 395.10 415.00C393.68 414.43 392.27 414.25 391.70 414.10 M395.10 415.00C395.52 415.27 396.62 415.90 397.60 416.60C398.58 417.30 399.87 418.20 401.00 419.20C402.13 420.20 403.42 421.47 404.40 422.60C405.38 423.73 406.27 424.73 406.90 426.00C407.53 427.27 408.05 428.93 408.20 430.20C408.35 431.47 408.28 432.68 407.80 433.60C407.32 434.52 406.43 435.28 405.30 435.70C404.17 436.12 402.57 436.17 401.00 436.10C399.43 436.03 397.17 435.72 395.90 435.30C394.63 434.88 393.97 434.45 393.40 433.60C392.83 432.75 392.37 431.18 392.50 430.20C392.63 429.22 393.20 428.20 394.20 427.70C395.20 427.20 397.08 427.20 398.50 427.20C399.92 427.20 401.30 427.55 402.70 427.70C404.10 427.85 405.92 428.25 406.90 428.10C407.88 427.95 407.75 427.23 408.60 426.80C409.45 426.37 410.87 425.78 412.00 425.50C413.13 425.22 414.27 425.02 415.40 425.10C416.53 425.18 417.67 425.43 418.80 426.00C419.93 426.57 421.07 427.52 422.20 428.50C423.33 429.48 424.47 431.05 425.60 431.90C426.73 432.75 428.02 433.03 429.00 433.60C429.98 434.17 431.00 434.17 431.50 435.30C432.00 436.43 431.92 439.12 432.00 440.40C432.08 441.68 432.08 442.07 432.00 443.00C431.92 443.93 431.87 445.13 431.50 446.00C431.13 446.87 430.78 447.55 429.80 448.20C428.82 448.85 426.87 449.77 425.60 449.90C424.33 450.03 423.62 449.72 422.20 449.00C420.78 448.28 418.52 446.73 417.10 445.60C415.68 444.47 414.55 443.47 413.70 442.20C412.85 440.93 412.13 437.87 412.00 438.00C411.87 438.13 412.75 442.17 412.90 443.00 M398.50 417.50C398.63 418.35 398.88 421.05 399.30 422.60C399.72 424.15 400.43 425.25 401.00 426.80C401.57 428.35 402.35 430.20 402.70 431.90C403.05 433.60 403.23 435.15 403.10 437.00C402.97 438.85 401.97 440.72 401.90 443.00C401.83 445.28 402.57 448.28 402.70 450.70C402.83 453.12 402.77 455.38 402.70 457.50C402.63 459.62 402.43 461.57 402.30 463.40C402.17 465.23 401.97 466.80 401.90 468.50C401.83 470.20 401.90 472.75 401.90 473.60 M393.40 409.00C393.40 410.00 393.55 412.88 393.40 415.00C393.25 417.12 392.78 419.73 392.50 421.70C392.22 423.67 391.98 425.10 391.70 426.80C391.42 428.50 390.95 431.05 390.80 431.90 M407.80 422.60C408.08 423.30 408.93 424.97 409.50 426.80C410.07 428.63 410.78 431.73 411.20 433.60C411.62 435.47 411.87 437.27 412.00 438.00 M366.40 449.00C367.10 448.72 369.18 447.43 370.60 447.30C372.02 447.17 373.62 447.48 374.90 448.20C376.18 448.92 377.88 450.05 378.30 451.60C378.72 453.15 377.97 455.67 377.40 457.50C376.83 459.33 375.75 461.90 374.90 462.60C374.05 463.30 373.30 462.55 372.30 461.70C371.30 460.85 369.88 459.05 368.90 457.50C367.92 455.95 366.82 453.82 366.40 452.40C365.98 450.98 366.40 449.57 366.40 449.00 M392.70 446.50C392.27 447.35 390.95 450.05 390.10 451.60C389.25 453.15 388.17 454.53 387.60 455.80C387.03 457.07 386.98 457.93 386.70 459.20C386.42 460.47 386.45 462.13 385.90 463.40C385.35 464.67 384.38 465.67 383.40 466.80C382.42 467.93 380.72 469.07 380.00 470.20C379.28 471.33 378.97 472.82 379.10 473.60C379.23 474.38 379.95 475.18 380.80 474.90C381.65 474.62 383.35 473.25 384.20 471.90C385.05 470.55 385.48 468.50 385.90 466.80C386.32 465.10 386.42 462.83 386.70 461.70C386.98 460.57 387.45 460.28 387.60 460.00 M380.00 455.00C380.70 455.55 382.93 457.32 384.20 458.30C385.47 459.28 386.33 460.18 387.60 460.90C388.87 461.62 390.23 462.18 391.80 462.60C393.37 463.02 396.13 463.27 397.00 463.40 M390.00 443.00C390.70 443.58 392.78 445.07 394.20 446.50C395.62 447.93 397.37 449.92 398.50 451.60C399.63 453.28 400.58 454.92 401.00 456.60C401.42 458.28 401.42 460.57 401.00 461.70C400.58 462.83 399.63 463.12 398.50 463.40C397.37 463.68 395.62 463.53 394.20 463.40C392.78 463.27 390.70 462.73 390.00 462.60" fill="none" stroke="#333" stroke-width="0.75" stroke-linejoin="round"/>
<circle cx="391.1" cy="418.3" r="4.2" fill="none" stroke="#f05a6a" stroke-width="0.9"/>
<ellipse cx="468.5" cy="419" rx="4.2" ry="3.4" fill="none" stroke="#333" stroke-width="0.7"/>
<ellipse cx="474.4" cy="420.7" rx="5" ry="4" fill="none" stroke="#333" stroke-width="0.7"/>
<ellipse cx="465" cy="415.6" rx="4" ry="3" fill="none" stroke="#333" stroke-width="0.7"/>
<ellipse cx="482" cy="422.4" rx="6" ry="3.2" fill="none" stroke="#333" stroke-width="0.7"/>
<ellipse cx="458.3" cy="422.4" rx="3.5" ry="4.5" fill="none" stroke="#333" stroke-width="0.7"/>
<ellipse cx="471" cy="425" rx="4.5" ry="2.8" fill="none" stroke="#333" stroke-width="0.7"/>
<path d="M447.62 417.02A41.8 41.8 0 0 1 506.44 406.89" fill="none" stroke="#8fd27a" stroke-width="1.0"/>
<path d="M506.44 406.89A41.8 41.8 0 0 1 515.31 466.05" fill="none" stroke="#7fdcec" stroke-width="1.0"/>
<path d="M515.31 466.05A41.8 41.8 0 0 1 456.67 474.05" fill="none" stroke="#7aa0e0" stroke-width="1.0"/>
<path d="M456.67 474.05A41.8 41.8 0 0 1 447.62 417.02" fill="none" stroke="#f2f07a" stroke-width="1.0"/>
<line x1="448.60" y1="417.70" x2="482.10" y2="443.80" stroke="#c6d25a" stroke-width="1.0" />
<line x1="506.50" y1="406.80" x2="482.10" y2="443.80" stroke="#8fe2d8" stroke-width="1.0" />
<line x1="515.50" y1="466.20" x2="482.10" y2="443.80" stroke="#3c9ad8" stroke-width="1.15" />
<line x1="457.40" y1="473.10" x2="482.10" y2="443.80" stroke="#e8e87a" stroke-width="1.0" />
<path d="M456.90 416.90C457.62 416.20 459.78 413.68 461.20 412.70C462.62 411.72 463.98 411.57 465.40 411.00C466.82 410.43 468.28 409.72 469.70 409.30C471.12 408.88 472.35 408.70 473.90 408.50C475.45 408.30 477.18 408.17 479.00 408.10C480.82 408.03 482.85 408.03 484.80 408.10C486.75 408.17 488.87 408.15 490.70 408.50C492.53 408.85 494.38 409.50 495.80 410.20C497.22 410.90 498.35 411.72 499.20 412.70C500.05 413.68 500.62 414.83 500.90 416.10C501.18 417.37 501.18 419.60 500.90 420.30C500.62 421.00 500.20 420.30 499.20 420.30C498.20 420.30 496.32 420.30 494.90 420.30C493.48 420.30 492.10 420.43 490.70 420.30C489.30 420.17 487.92 419.78 486.50 419.50C485.08 419.22 483.62 418.88 482.20 418.60C480.78 418.32 478.70 417.93 478.00 417.80 M461.20 412.70C461.90 412.57 464.27 411.62 465.40 411.90C466.53 412.18 467.57 413.28 468.00 414.40C468.43 415.52 468.28 417.47 468.00 418.60C467.72 419.73 467.02 420.63 466.30 421.20C465.58 421.77 464.42 422.28 463.70 422.00C462.98 421.72 462.42 420.48 462.00 419.50C461.58 418.52 461.33 416.67 461.20 416.10 M467.10 416.90C467.95 416.63 470.65 415.43 472.20 415.30C473.75 415.17 474.98 415.40 476.40 416.10C477.82 416.80 480.42 418.37 480.70 419.50C480.98 420.63 479.23 422.20 478.10 422.90C476.97 423.60 475.17 423.42 473.90 423.70C472.63 423.98 471.63 424.73 470.50 424.60C469.37 424.47 467.67 423.18 467.10 422.90 M456.90 416.90C455.92 416.90 452.57 416.63 451.00 416.90C449.43 417.17 448.42 417.85 447.50 418.50C446.58 419.15 445.92 419.72 445.50 420.80C445.08 421.88 445.22 423.10 445.00 425.00C444.78 426.90 444.33 430.02 444.20 432.20C444.07 434.38 444.05 435.38 444.20 438.10C444.35 440.82 444.82 445.63 445.10 448.50C445.38 451.37 445.33 454.45 445.90 455.30C446.47 456.15 447.65 454.73 448.50 453.60C449.35 452.47 450.43 450.77 451.00 448.50C451.57 446.23 451.65 442.42 451.90 440.00C452.15 437.58 451.80 435.87 452.50 434.00C453.20 432.13 455.50 429.67 456.10 428.80 M451.00 422.00C451.00 422.57 450.72 424.40 451.00 425.40C451.28 426.40 451.72 427.57 452.70 428.00C453.68 428.43 455.92 428.43 456.90 428.00C457.88 427.57 458.32 426.40 458.60 425.40C458.88 424.40 458.88 422.98 458.60 422.00C458.32 421.02 457.73 419.78 456.90 419.50C456.07 419.22 454.58 419.88 453.60 420.30C452.62 420.72 451.43 421.72 451.00 422.00 M456.10 428.80C455.97 429.37 455.30 430.93 455.30 432.20C455.30 433.47 455.55 435.27 456.10 436.40C456.65 437.53 457.47 438.15 458.60 439.00C459.73 439.85 461.48 440.93 462.90 441.50C464.32 442.07 466.12 442.53 467.10 442.40C468.08 442.27 468.52 440.98 468.80 440.70 M462.00 425.40C462.57 426.12 464.40 428.28 465.40 429.70C466.40 431.12 467.28 432.50 468.00 433.90C468.72 435.30 469.42 436.23 469.70 438.10C469.98 439.97 469.28 443.08 469.70 445.10C470.12 447.12 471.37 448.78 472.20 450.20C473.03 451.62 473.72 452.90 474.70 453.60C475.68 454.30 477.10 454.68 478.10 454.40C479.10 454.12 479.98 453.17 480.70 451.90C481.42 450.63 481.87 447.95 482.40 446.80C482.93 445.65 483.37 445.73 483.90 445.00C484.43 444.27 484.88 443.68 485.60 442.40C486.32 441.12 487.35 439.00 488.20 437.30C489.05 435.60 490.13 433.90 490.70 432.20C491.27 430.50 491.45 427.95 491.60 427.10 M468.80 425.40C469.08 426.53 469.93 430.50 470.50 432.20C471.07 433.90 471.50 434.33 472.20 435.60C472.90 436.87 473.72 438.53 474.70 439.80C475.68 441.07 477.38 441.47 478.10 443.20C478.82 444.93 478.28 448.18 479.00 450.20C479.72 452.22 481.40 454.17 482.40 455.30C483.40 456.43 484.57 456.72 485.00 457.00 M476.40 425.40C476.68 425.97 477.95 427.95 478.10 428.80C478.25 429.65 478.00 429.93 477.30 430.50C476.60 431.07 475.03 431.92 473.90 432.20C472.77 432.48 471.07 432.20 470.50 432.20 M500.90 420.30C501.32 420.58 502.42 421.28 503.40 422.00C504.38 422.72 505.95 423.47 506.80 424.60C507.65 425.73 508.22 427.25 508.50 428.80C508.78 430.35 508.78 432.20 508.50 433.90C508.22 435.60 507.65 437.13 506.80 439.00C505.95 440.87 504.67 443.67 503.40 445.10C502.13 446.53 500.75 447.03 499.20 447.60C497.65 448.17 495.80 448.63 494.10 448.50C492.40 448.37 490.55 447.52 489.00 446.80C487.45 446.08 485.50 444.63 484.80 444.20 M492.40 427.10C493.25 426.97 495.80 426.30 497.50 426.30C499.20 426.30 501.47 426.53 502.60 427.10C503.73 427.67 504.45 428.98 504.30 429.70C504.15 430.42 502.98 431.27 501.70 431.40C500.42 431.53 498.00 431.07 496.60 430.50C495.20 429.93 493.85 428.42 493.30 428.00 M478.00 432.20C478.85 431.78 481.40 430.42 483.10 429.70C484.80 428.98 486.65 428.33 488.20 427.90C489.75 427.47 491.00 427.80 492.40 427.10C493.80 426.40 495.33 424.83 496.60 423.70C497.87 422.57 499.43 420.87 500.00 420.30 M484.80 425.40C484.52 426.53 483.67 429.93 483.10 432.20C482.53 434.47 481.83 436.87 481.40 439.00C480.97 441.13 480.78 442.85 480.50 445.00C480.22 447.15 479.83 450.75 479.70 451.90 M478.00 451.00C478.70 451.57 480.50 452.98 482.20 454.40C483.90 455.82 486.35 457.80 488.20 459.50C490.05 461.20 492.03 462.90 493.30 464.60C494.57 466.30 495.53 468.15 495.80 469.70C496.07 471.25 495.32 472.78 494.90 473.90C494.48 475.02 493.57 475.98 493.30 476.40 M455.00 419.00C456.33 418.42 460.17 416.33 463.00 415.50C465.83 414.67 469.00 414.17 472.00 414.00C475.00 413.83 478.17 414.23 481.00 414.50C483.83 414.77 486.67 415.18 489.00 415.60C491.33 416.02 493.05 416.43 495.00 417.00C496.95 417.57 499.75 418.67 500.70 419.00 M468.50 436.00C468.78 437.00 469.63 440.03 470.20 442.00C470.77 443.97 471.20 445.98 471.90 447.80C472.60 449.62 473.27 452.05 474.40 452.90C475.53 453.75 477.42 454.02 478.70 452.90C479.98 451.78 481.25 448.45 482.10 446.20C482.95 443.95 483.80 441.95 483.80 439.40C483.80 436.85 482.90 433.13 482.10 430.90C481.30 428.67 479.52 426.82 479.00 426.00 M458.00 431.00C458.50 431.50 459.67 433.17 461.00 434.00C462.33 434.83 464.17 435.83 466.00 436.00C467.83 436.17 470.33 435.67 472.00 435.00C473.67 434.33 475.00 433.17 476.00 432.00C477.00 430.83 477.67 428.67 478.00 428.00" fill="none" stroke="#333" stroke-width="0.75" stroke-linejoin="round"/>
<circle cx="480.0" cy="419.7" r="4.2" fill="none" stroke="#f05a6a" stroke-width="0.9"/>
<text x="368.00" y="495.60" font-size="6.2" font-weight="bold" font-family="Liberation Sans" fill="#111"><tspan font-style="italic">Sm22</tspan><tspan font-style="italic" font-weight="normal">α</tspan><tspan font-size="4.34" dy="-2.36" font-weight="normal">-/-</tspan><tspan dy="2.36">+AAV-Con</tspan></text>
<text x="447.60" y="495.60" font-size="6.2" font-weight="bold" font-family="Liberation Sans" fill="#111"><tspan font-style="italic">Sm22</tspan><tspan font-style="italic" font-weight="normal">α</tspan><tspan font-size="4.34" dy="-2.36" font-weight="normal">-/-</tspan><tspan dy="2.36">+AAV-SM22α</tspan></text>
<text x="435.40" y="515.48" font-size="6.6" text-anchor="middle" font-weight="bold" fill="#111" font-family="Liberation Sans"><tspan font-weight="normal" fill="#444">(</tspan><tspan dx="0.66"> MWM </tspan><tspan font-weight="normal" fill="#444" dx="0.66">)</tspan></text>
</svg>
</body></html>
